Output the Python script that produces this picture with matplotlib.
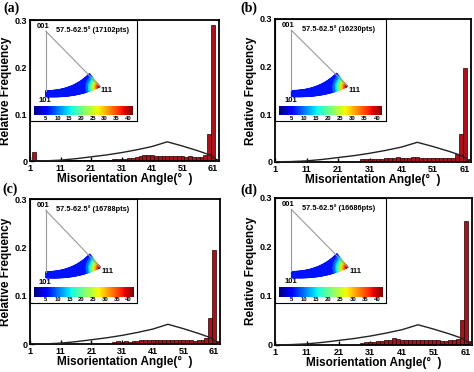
import matplotlib
matplotlib.use("Agg")
import matplotlib.pyplot as plt
import numpy as np

# histogram bins (degrees)
bin_start = 2.25
bin_width = 1.25
n_bins = 49

freq_a = [0.019, 0.003, 0.001, 0.001, 0.001, 0.0015, 0.0015, 0.0015, 0.0015, 0.0015,
          0.002, 0.002, 0.002, 0.002, 0.002, 0.002, 0.0025, 0.0025, 0.003, 0.003,
          0.003, 0.004, 0.004, 0.005, 0.005, 0.006, 0.007, 0.008, 0.010, 0.012,
          0.013, 0.012, 0.011, 0.010, 0.011, 0.010, 0.011, 0.010, 0.010, 0.010,
          0.009, 0.010, 0.009, 0.008, 0.009, 0.013, 0.057, 0.289, 0.005]
freq_b = [0, 0, 0, 0, 0, 0, 0, 0, 0, 0,
          0, 0, 0, 0, 0, 0, 0, 0, 0, 0,
          0, 0.005, 0.005, 0.005, 0.005, 0.006, 0.006, 0.007, 0.008, 0.009,
          0.010, 0.009, 0.008, 0.009, 0.010, 0.010, 0.009, 0.009, 0.009, 0.009,
          0.009, 0.009, 0.008, 0.008, 0.009, 0.017, 0.059, 0.197, 0.006]
freq_c = [0, 0, 0, 0, 0, 0, 0, 0, 0, 0,
          0, 0, 0, 0, 0, 0, 0, 0, 0, 0,
          0, 0.005, 0.006, 0.005, 0.006, 0.005, 0.006, 0.007, 0.008, 0.008,
          0.008, 0.008, 0.008, 0.008, 0.008, 0.008, 0.008, 0.008, 0.008, 0.008,
          0.008, 0.008, 0.007, 0.008, 0.008, 0.013, 0.055, 0.194, 0.006]
freq_d = [0, 0, 0, 0, 0, 0, 0, 0, 0, 0,
          0, 0, 0, 0, 0, 0, 0, 0, 0, 0,
          0, 0.004, 0.005, 0.005, 0.006, 0.007, 0.007, 0.009, 0.010, 0.013,
          0.011, 0.010, 0.009, 0.009, 0.010, 0.010, 0.009, 0.010, 0.009, 0.009,
          0.009, 0.008, 0.008, 0.009, 0.009, 0.012, 0.051, 0.253, 0.008]

# random (Mackenzie) distribution
mackenzie_angle = [1, 6, 11, 16, 21, 26, 31, 36, 41, 46, 51, 56, 60, 61.5, 62.8]
mackenzie_freq = [0, 0.0005, 0.002, 0.005, 0.009, 0.013, 0.018, 0.024, 0.031, 0.041,
                  0.032, 0.022, 0.013, 0.006, 0]

panel_tags = ["(a)", "(b)", "(c)", "(d)"]
point_counts = ["17102", "16230", "16788", "16686"]

x_ticks = [1, 11, 21, 31, 41, 51, 61]
y_ticks = [0, 0.1, 0.2, 0.3]
y_tick_labels = ["0", "0.1", "0.2", "0.3"]
cbar_ticks = [5, 10, 15, 20, 25, 30, 35, 40]

# IPF density rings round the 111 pole: radius (inset px) and level
ring_radius = [15.0, 12.5, 10.5, 8.5, 6.5, 4.5, 2.5]
ring_level = [10, 15, 20, 25, 30, 35, 41]
base_level = 6

plt.rcParams['font.family'] = ['Liberation Sans', 'DejaVu Sans']
plt.rcParams['font.weight'] = 'bold'
plt.rcParams['axes.labelweight'] = 'bold'


def bezier(p0, p1, p2, t):
    t = t[:, None]
    return (1 - t)**2 * np.array(p0) + 2 * (1 - t) * t * np.array(p1) + t**2 * np.array(p2)


def draw_inset(ax, pts):
    ins = ax.inset_axes([0, 0.285, 0.565, 0.715])
    ins.set_xlim(0, 1)
    ins.set_ylim(0, 1)
    ins.set_xticks([])
    ins.set_yticks([])
    ins.set_facecolor("white")
    for s in ins.spines.values():
        s.set_linewidth(0.8)

    # triangle edges
    ins.plot([0.148, 0.148], [0.89, 0.30], color="#999999", lw=0.8)
    ins.plot([0.148, 0.657], [0.89, 0.34], color="#999999", lw=0.8)

    # coloured band along the 101-111 edge
    t = np.linspace(0, 1, 80)
    outer = bezier((0.148, 0.24), (0.45, 0.225), (0.657, 0.34), t)
    inner = bezier((0.148, 0.30), (0.40, 0.30), (0.556, 0.47), t)
    s = np.linspace(0, 1, 15)[:, None, None]
    mesh = (1 - s) * outer[None] + s * inner[None]
    X, Y = mesh[..., 0], mesh[..., 1]
    d = np.hypot((X - 0.657) * 108, (Y - 0.34) * 100)
    val = np.full(d.shape, float(base_level))
    for r, lev in zip(ring_radius, ring_level):
        val[d < r] = lev
    ins.pcolormesh(X, Y, val, cmap="jet", vmin=0, vmax=42, shading="gouraud")

    ins.text(0.12, 0.935, "001", fontsize=5.5, ha="center", va="center")
    ins.text(0.24, 0.90, "57.5-62.5° (" + pts + "pts)", fontsize=5.3, ha="left", va="center")
    ins.text(0.14, 0.20, "101", fontsize=5.5, ha="center", va="center")
    ins.text(0.72, 0.30, "111", fontsize=5.5, ha="center", va="center")

    cax = ins.inset_axes([0.037, 0.06, 0.926, 0.09])
    cax.imshow(np.linspace(0, 42, 256)[None, :], cmap="jet", aspect="auto",
               extent=[0, 42, 0, 1])
    cax.set_yticks([])
    cax.set_xticks(cbar_ticks)
    cax.set_xticklabels([str(v) for v in cbar_ticks])
    cax.tick_params(axis="x", length=0, pad=0.5, labelsize=4.2)
    for sp in cax.spines.values():
        sp.set_visible(False)


def plot(ax, freq, pts):
    centres = bin_start + bin_width * np.arange(n_bins)
    ax.bar(centres, freq, width=bin_width, color="#a8121a", edgecolor="#220000",
           linewidth=0.5, zorder=2)
    ax.plot(mackenzie_angle, mackenzie_freq, color="#222222", lw=1.0, zorder=3)
    ax.set_xlim(1, 63)
    ax.set_ylim(0, 0.3)
    ax.set_xticks(x_ticks)
    ax.set_yticks(y_ticks)
    ax.set_yticklabels(y_tick_labels)
    ax.tick_params(direction="in", length=3, width=1, labelsize=6.5, pad=2)
    for lab in ax.get_xticklabels() + ax.get_yticklabels():
        lab.set_fontweight("bold")
    for s in ax.spines.values():
        s.set_linewidth(1.3)
    ax.set_xlabel("Misorientation Angle(°  )", fontsize=8.5, fontweight="bold", labelpad=0)
    ax.set_ylabel("Relative Frequency", fontsize=8.5, fontweight="bold", labelpad=2)
    draw_inset(ax, pts)


def main():
    fig = plt.figure(figsize=(4.74, 3.72), dpi=100)
    positions = [[0.0633, 0.567, 0.399, 0.379],
                 [0.580, 0.565, 0.414, 0.384],
                 [0.0633, 0.075, 0.401, 0.390],
                 [0.580, 0.073, 0.416, 0.395]]
    tag_xy = [(0.008, 0.997), (0.507, 0.997), (0.004, 0.510), (0.507, 0.508)]
    all_freq = [freq_a, freq_b, freq_c, freq_d]
    for pos, freq, tag, xy, pts in zip(positions, all_freq, panel_tags, tag_xy, point_counts):
        ax = fig.add_axes(pos)
        plot(ax, freq, pts)
        fig.text(xy[0], xy[1], tag, fontsize=10, family="Liberation Serif",
                 fontweight="bold", va="top", ha="left")
    fig.savefig("out.png", dpi=100)


if __name__ == "__main__":
    main()
